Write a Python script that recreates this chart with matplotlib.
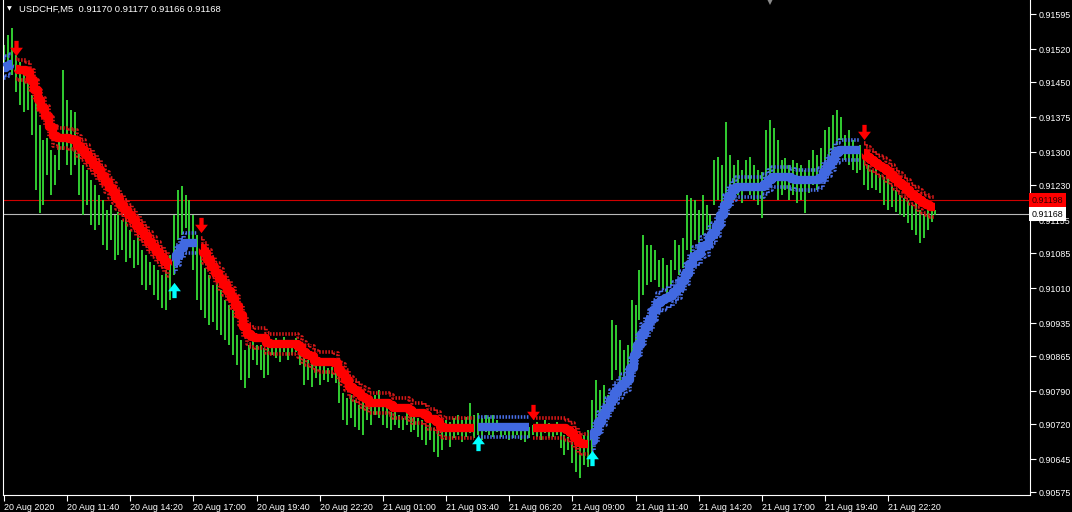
import numpy as np
import matplotlib
matplotlib.use("Agg")
import matplotlib.pyplot as plt
from matplotlib.path import Path
from matplotlib.transforms import blended_transform_factory

plt.rcParams['font.family'] = ['Liberation Sans', 'DejaVu Sans']
plt.rcParams['lines.scale_dashes'] = False

symbol = "USDCHF,M5"
last_ohlc = [0.91170, 0.91177, 0.91166, 0.91168]
hline_price = 0.91198
bid_price = 0.91168

# bars, one per 10 minutes, prices in points (1e-5)
high_pts = [
    91529, 91550, 91565, 91508, 91493, 91476, 91450, 91422, 91416, 91358,
    91326, 91330, 91305, 91294, 91326, 91476, 91412, 91390, 91386, 91305,
    91273, 91262, 91241, 91230, 91209, 91198, 91177, 91187, 91166, 91173,
    91155, 91166, 91134, 91113, 91123, 91091, 91081, 91066, 91059, 91049,
    91038, 91049, 91081, 91166, 91219, 91228, 91209, 91198, 91166, 91123,
    91091, 91053, 91038, 91017, 91027, 91006, 90985, 90974, 90963, 90910,
    90899, 90878, 90889, 90899, 90889, 90889, 90882, 90889, 90899, 90904,
    90889, 90906, 90899, 90895, 90904, 90878, 90867, 90857, 90852, 90861,
    90846, 90852, 90840, 90842, 90835, 90831, 90786, 90776, 90782, 90771,
    90761, 90771, 90782, 90776, 90782, 90793, 90771, 90754, 90746, 90750,
    90739, 90733, 90750, 90739, 90744, 90733, 90729, 90718, 90724, 90712,
    90707, 90714, 90729, 90724, 90733, 90739, 90729, 90735, 90765, 90739,
    90744, 90733, 90739, 90735, 90739, 90729, 90718, 90722, 90718, 90714,
    90718, 90712, 90707, 90714, 90718, 90724, 90718, 90729, 90722, 90718,
    90724, 90703, 90697, 90692, 90682, 90671, 90675, 90697, 90707, 90771,
    90814, 90793, 90803, 90782, 90942, 90931, 90899, 90878, 90889, 90985,
    90974, 91049, 91123, 91102, 91102, 91091, 91070, 91074, 91059, 91070,
    91113, 91102, 91117, 91209, 91202, 91198, 91177, 91209, 91187, 91166,
    91283, 91290, 91273, 91365, 91294, 91273, 91283, 91262, 91283, 91290,
    91273, 91262, 91258, 91348, 91369, 91352, 91326, 91283, 91288, 91273,
    91283, 91277, 91273, 91262, 91283, 91305, 91294, 91309, 91347, 91354,
    91380, 91390, 91375, 91337, 91347, 91326, 91305, 91315, 91283, 91273,
    91262, 91266, 91251, 91247, 91251, 91230, 91219, 91209, 91202, 91198,
    91187, 91192, 91177, 91166, 91177, 91187, 91177,
]
low_pts = [
    91476, 91493, 91465, 91429, 91401, 91386, 91390, 91337, 91220, 91170,
    91187, 91251, 91209, 91230, 91262, 91305, 91273, 91251, 91273, 91209,
    91166, 91187, 91145, 91134, 91145, 91102, 91091, 91113, 91070, 91081,
    91091, 91066, 91074, 91053, 91059, 91017, 91006, 91017, 90995, 90985,
    90968, 90963, 90985, 91038, 91113, 91123, 91138, 91102, 91049, 90985,
    90963, 90946, 90931, 90938, 90921, 90910, 90899, 90889, 90867, 90846,
    90814, 90797, 90818, 90857, 90846, 90835, 90818, 90825, 90867, 90861,
    90852, 90874, 90857, 90867, 90874, 90846, 90803, 90814, 90799, 90818,
    90803, 90814, 90810, 90818, 90808, 90765, 90729, 90718, 90733, 90714,
    90707, 90697, 90729, 90718, 90739, 90733, 90718, 90712, 90707, 90718,
    90712, 90707, 90718, 90703, 90707, 90692, 90686, 90675, 90686, 90660,
    90650, 90665, 90686, 90671, 90690, 90697, 90682, 90692, 90701, 90690,
    90697, 90686, 90703, 90697, 90692, 90703, 90692, 90697, 90686, 90690,
    90697, 90686, 90682, 90690, 90697, 90692, 90686, 90701, 90690, 90692,
    90697, 90669, 90654, 90665, 90637, 90618, 90605, 90633, 90628, 90654,
    90686, 90729, 90739, 90733, 90814, 90835, 90803, 90793, 90831, 90857,
    90889, 90942, 90995, 91017, 91023, 91027, 91012, 91006, 91000, 91017,
    91049, 91038, 91053, 91091, 91081, 91113, 91106, 91123, 91134, 91113,
    91187, 91198, 91177, 91209, 91219, 91198, 91209, 91192, 91219, 91209,
    91198, 91187, 91160, 91219, 91241, 91234, 91198, 91209, 91219, 91198,
    91209, 91192, 91198, 91170, 91213, 91230, 91219, 91241, 91273, 91283,
    91305, 91315, 91326, 91283, 91273, 91262, 91256, 91262, 91230, 91219,
    91224, 91219, 91213, 91187, 91177, 91183, 91173, 91166, 91162, 91149,
    91134, 91123, 91106, 91117, 91134, 91151, 91166,
]
# trend indicator line, same bars
line_pts = [
    91480, 91484, 91488, 91478, 91476, 91476, 91471, 91454, 91433, 91411,
    91394, 91377, 91354, 91335, 91330, 91330, 91330, 91328, 91326, 91313,
    91305, 91294, 91283, 91273, 91262, 91249, 91236, 91224, 91213, 91200,
    91187, 91177, 91166, 91155, 91143, 91132, 91121, 91108, 91098, 91087,
    91076, 91066, 91057, 91066, 91081, 91096, 91106, 91106, 91106, 91106,
    91096, 91085, 91070, 91055, 91042, 91030, 91017, 91004, 90989, 90972,
    90953, 90927, 90912, 90906, 90904, 90904, 90904, 90893, 90891, 90891,
    90891, 90891, 90891, 90891, 90891, 90884, 90874, 90867, 90865, 90855,
    90852, 90852, 90852, 90852, 90850, 90835, 90827, 90814, 90799, 90793,
    90786, 90778, 90774, 90765, 90765, 90765, 90765, 90765, 90761, 90754,
    90754, 90754, 90754, 90750, 90744, 90744, 90744, 90740, 90731, 90731,
    90725, 90714, 90712, 90712, 90712, 90712, 90712, 90712, 90712, 90712,
    90714, 90714, 90714, 90714, 90714, 90714, 90714, 90714, 90714, 90714,
    90714, 90714, 90714, 90714, 90712, 90712, 90712, 90712, 90712, 90712,
    90712, 90712, 90712, 90707, 90701, 90690, 90680, 90678, 90678, 90684,
    90703, 90725, 90740, 90754, 90771, 90786, 90797, 90805, 90814, 90840,
    90867, 90889, 90912, 90927, 90942, 90963, 90978, 90985, 90989, 90993,
    91002, 91010, 91025, 91040, 91061, 91076, 91083, 91098, 91102, 91119,
    91128, 91143, 91166, 91187, 91207, 91219, 91226, 91226, 91226, 91226,
    91226, 91226, 91226, 91232, 91241, 91247, 91247, 91247, 91247, 91247,
    91243, 91241, 91241, 91241, 91241, 91241, 91241, 91245, 91258, 91271,
    91283, 91298, 91305, 91305, 91305, 91305, 91305, 91305, 91298, 91290,
    91283, 91277, 91271, 91266, 91260, 91251, 91243, 91234, 91228, 91219,
    91211, 91204, 91198, 91192, 91187, 91183, 91183,
]
# bar index where the trend flips
trend_starts = [(0, 'up'), (3, 'down'), (43, 'up'), (50, 'down'),
                (120, 'up'), (134, 'down'), (149, 'up'), (218, 'down')]
sell_arrows = [(3, 0.91522), (50, 0.91145), (134, 0.90746), (218, 0.91343)]
buy_arrows = [(43, 0.91006), (120, 0.90680), (149, 0.90648)]

price_ticks = [0.91595, 0.91520, 0.91450, 0.91375, 0.91300, 0.91230, 0.91155,
               0.91085, 0.91010, 0.90935, 0.90865, 0.90790, 0.90720, 0.90645,
               0.90575]
time_labels = ["20 Aug 2020", "20 Aug 11:40", "20 Aug 14:20", "20 Aug 17:00",
               "20 Aug 19:40", "20 Aug 22:20", "21 Aug 01:00", "21 Aug 03:40",
               "21 Aug 06:20", "21 Aug 09:00", "21 Aug 11:40", "21 Aug 14:20",
               "21 Aug 17:00", "21 Aug 19:40", "21 Aug 22:20"]
label_every = 16

hi = np.array(high_pts) / 1e5
lo = np.array(low_pts) / 1e5
ind = np.array(line_pts) / 1e5
n = len(hi)
x = np.arange(n)

fig = plt.figure(figsize=(10.72, 5.12), dpi=100, facecolor='black')
ax = fig.add_axes([3 / 1072, 17 / 512, 1027 / 1072, 495 / 512])
ax.set_facecolor('black')

ax.axhline(hline_price, color='#D00000', lw=0.8, zorder=1)
ax.axhline(bid_price, color='#B8B8B8', lw=0.8, zorder=1)

ax.vlines(x, lo, hi, color='#32CD32', lw=1.4, zorder=2)

cols = {'up': '#4169E1', 'down': '#FF0000'}
band_cols = {'up': '#4A70E8', 'down': '#D81818'}
for k, (s, d) in enumerate(trend_starts):
    e = trend_starts[k + 1][0] if k + 1 < len(trend_starts) else n
    xs = x[s:e]
    ys = ind[s:e]
    for off in (0.00021, -0.00021):
        ax.plot(xs, ys + off, color=band_cols[d], lw=2.6, dashes=(1.1, 1.1),
                drawstyle='steps-mid', zorder=3)
    ax.plot(xs, ys, color=cols[d], lw=6.0, drawstyle='steps-mid',
            solid_capstyle='butt', zorder=4)

down_arrow = Path([(-0.14, 0.5), (0.14, 0.5), (0.14, 0.05), (0.42, 0.05),
                   (0, -0.5), (-0.42, 0.05), (-0.14, 0.05), (-0.14, 0.5)],
                  [1, 2, 2, 2, 2, 2, 2, 79])
up_arrow = Path([(vx, -vy) for vx, vy in down_arrow.vertices], down_arrow.codes)
for i, p in sell_arrows:
    ax.plot(i, p, marker=down_arrow, ms=11, color='#FF0000', mew=0, zorder=5)
for i, p in buy_arrows:
    ax.plot(i, p, marker=up_arrow, ms=11, color='#00FFFF', mew=0, zorder=5)

ax.set_xlim(-0.25, 259.95)
ax.set_ylim(0.905687, 0.91625)

ax.yaxis.tick_right()
ax.set_yticks(price_ticks)
ax.set_yticklabels([f"{t:.5f}" for t in price_ticks])
ax.set_xticks(np.arange(len(time_labels)) * label_every)
ax.set_xticklabels(time_labels, ha='left')
ax.tick_params(axis='both', colors='white', labelsize=6.4, length=4, width=0.8)
ax.tick_params(axis='y', pad=2)
ax.tick_params(axis='x', pad=2)

for side in ('left', 'bottom', 'right'):
    ax.spines[side].set_color('white')
    ax.spines[side].set_linewidth(0.8)
ax.spines['top'].set_visible(False)

tr = blended_transform_factory(ax.transAxes, ax.transData)
ax.text(1.0015, hline_price, f"{hline_price:.5f}", transform=tr, fontsize=6.4,
        color='#300000', va='center', ha='left', zorder=6,
        bbox=dict(boxstyle='square,pad=0.3', fc='#FF0000', ec='none'))
ax.text(1.0015, bid_price, f"{bid_price:.5f}", transform=tr, fontsize=6.4,
        color='black', va='center', ha='left', zorder=6,
        bbox=dict(boxstyle='square,pad=0.3', fc='white', ec='none'))

# header and chart-shift marker
fig.text(7 / 1072, 1 - 9 / 512, "▼", color='white', fontsize=4.5, va='center',
         family='DejaVu Sans')
fig.text(19 / 1072, 1 - 9 / 512,
         symbol + "  " + " ".join(f"{v:.5f}" for v in last_ohlc),
         color='white', fontsize=6.8, va='center')
ax.plot([0.747], [0.997], marker='v', ms=6, color='#8A8A8A', mew=0,
        transform=ax.transAxes, clip_on=False)

fig.savefig('out.png', dpi=100, facecolor='black')
